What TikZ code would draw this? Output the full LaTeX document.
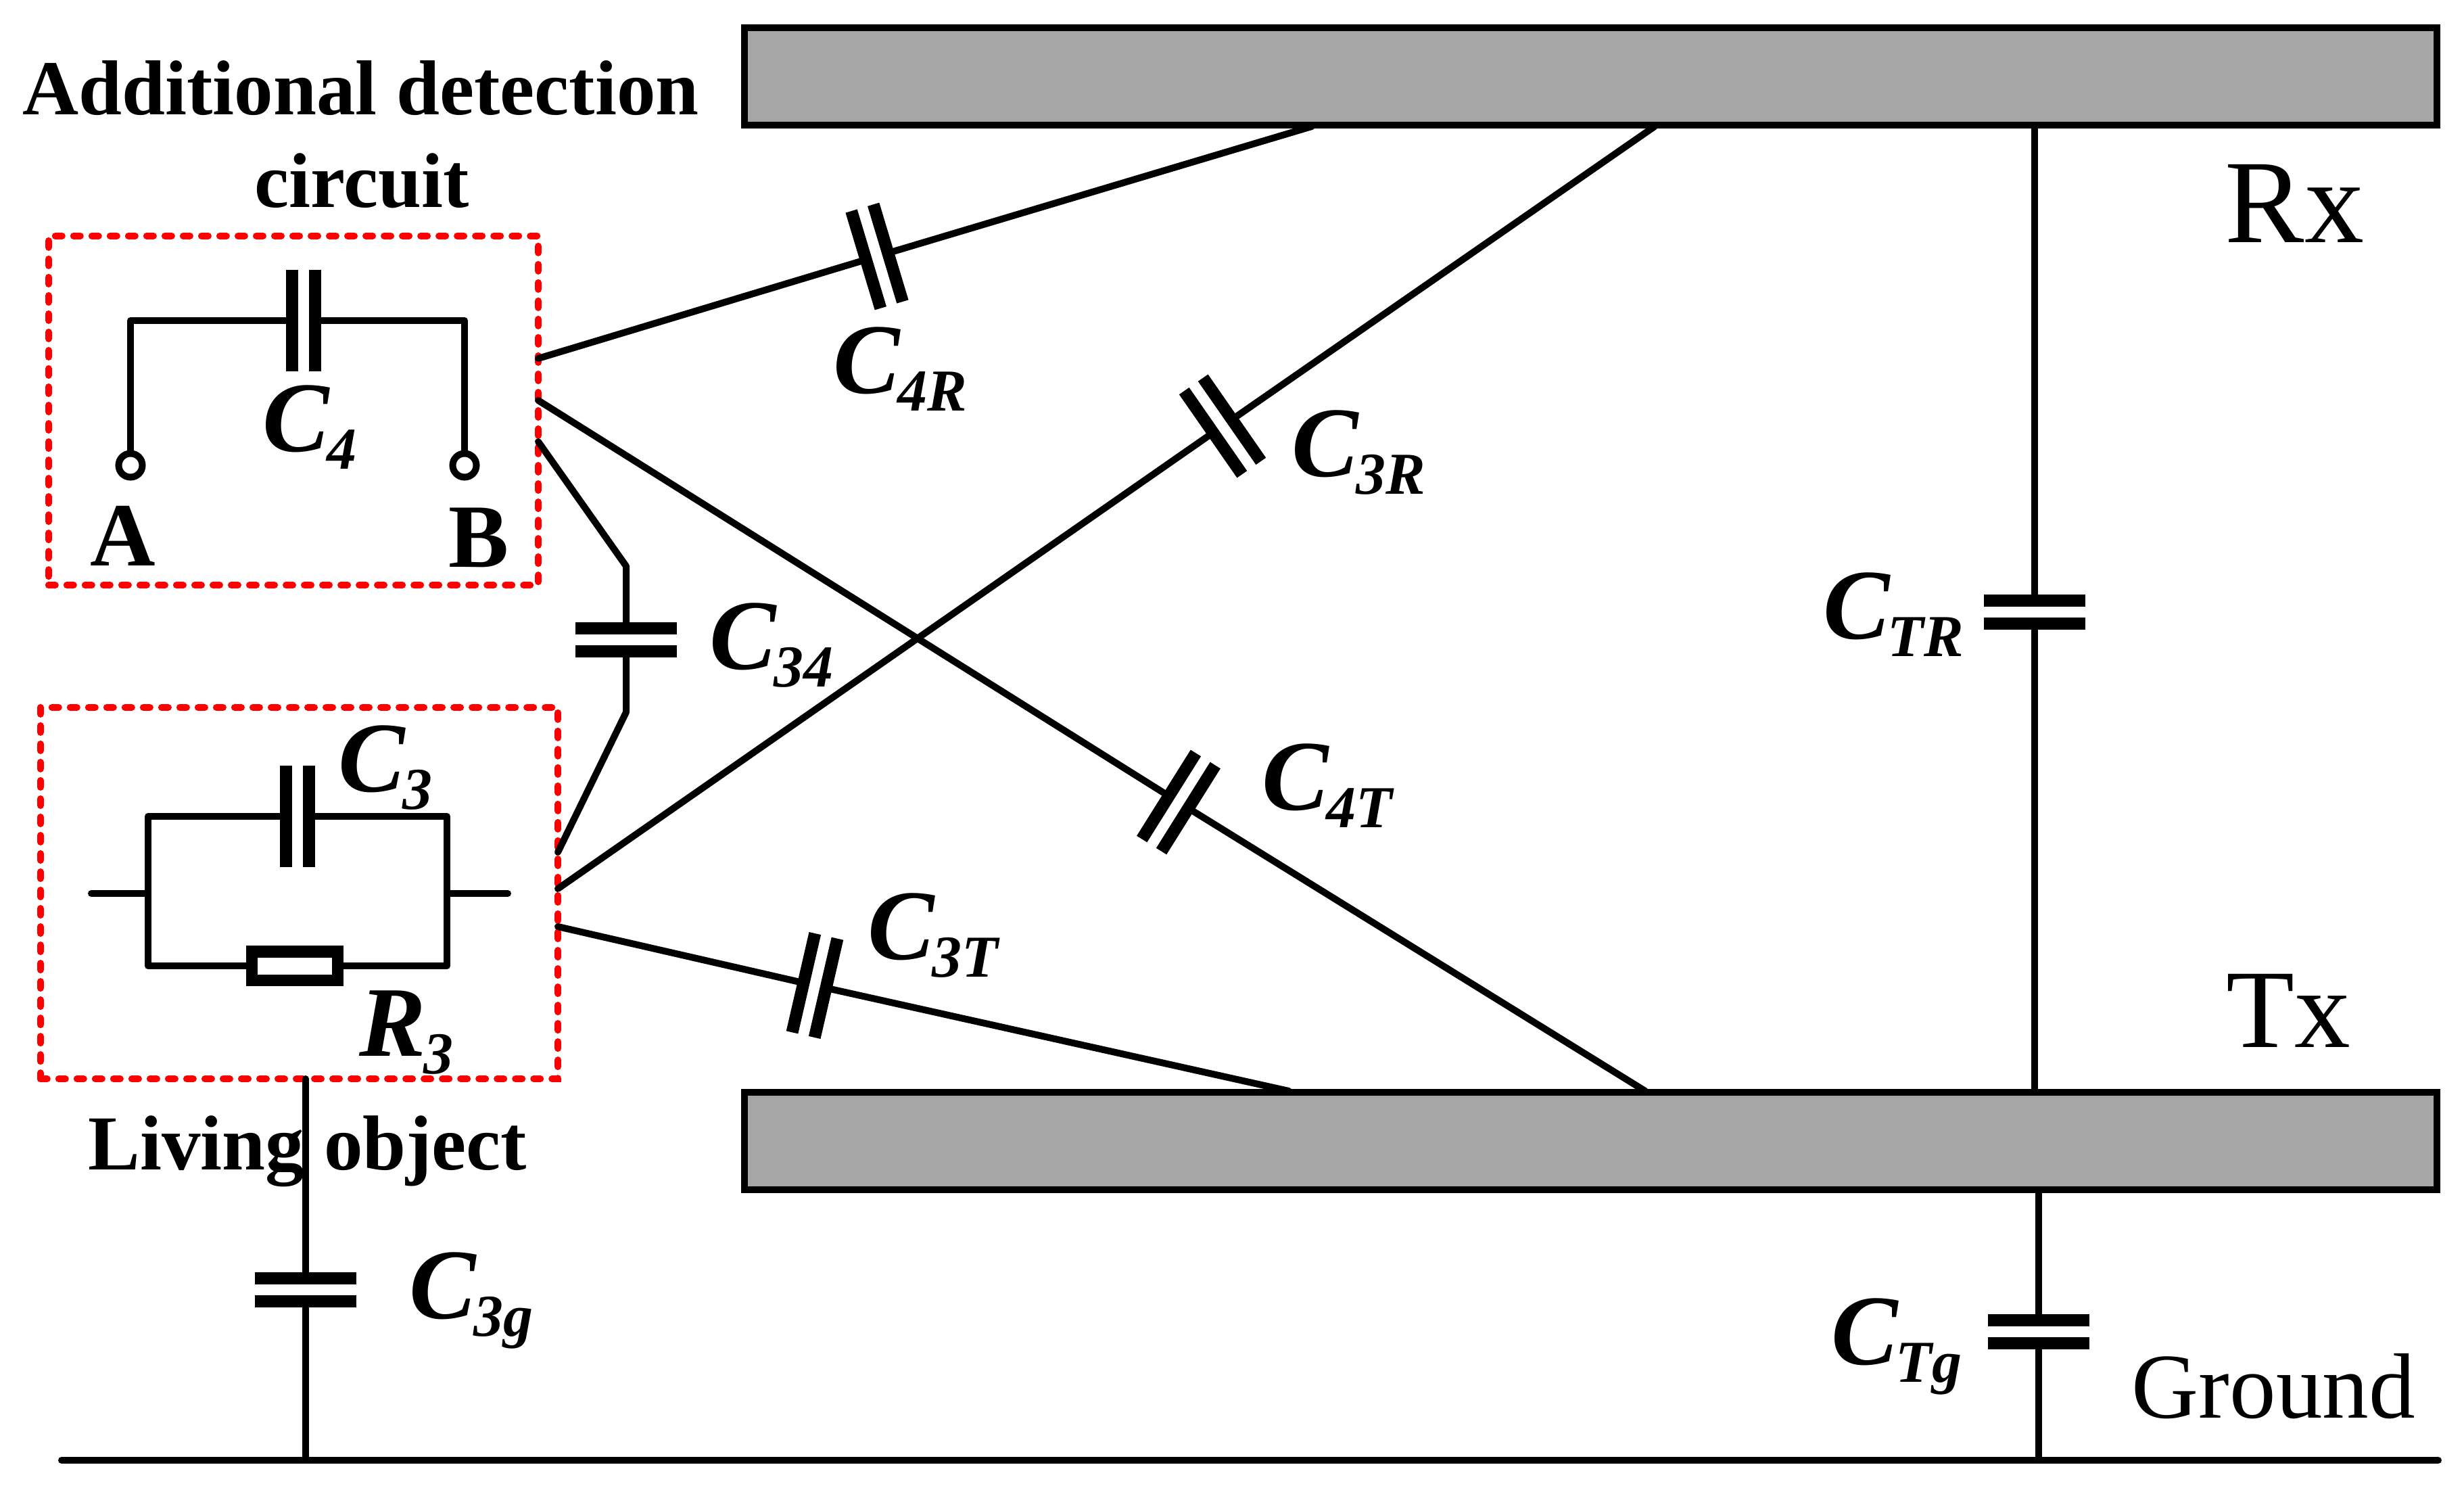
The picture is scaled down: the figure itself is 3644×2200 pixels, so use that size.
\documentclass[tikz,border=0pt]{standalone}
\usepackage{fontspec}
\setmainfont{Liberation Serif}

\newcommand{\capl}[2]{{\fontsize{42}{42}\selectfont\bfseries\itshape #1\kern-1pt\raisebox{-7.5pt}{\fontsize{25}{25}\selectfont #2}}}
% capacitor: name, position, rotation
\newcommand{\capac}[3]{
    \node[capgap, rotate=#3] (#1) at (#2) {};
    \draw[plate] (#1.north west) -- (#1.north east);
    \draw[plate] (#1.south west) -- (#1.south east);
}

\begin{document}
\begin{tikzpicture}[
        x=0.01cm, y=-0.01cm,
        wire/.style={line width=0.1cm, line cap=round, line join=round},
        plate/.style={line width=0.18cm},
        capgap/.style={rectangle, inner sep=0pt, outer sep=0pt, minimum width=1.5cm, minimum height=0.34cm},
        bar/.style={draw, fill=black!35, line width=0.1cm, inner sep=0pt, outer sep=0pt, minimum width=25.01cm, minimum height=1.44cm},
        dbox/.style={draw=red, line width=0.1cm, line cap=round, dash pattern=on 0.1cm off 0.17cm, inner sep=0pt, outer sep=0pt},
        term/.style={circle, draw, fill=white, line width=0.1cm, inner sep=0pt, minimum size=0.35cm},
        bold/.style={inner sep=0pt, anchor=base west, font=\fontsize{32.7}{32.7}\selectfont\bfseries},
        plain/.style={inner sep=0pt, anchor=base west, font=\fontsize{47}{47}\selectfont},
        lab/.style={inner sep=0pt, anchor=base west}
    ]
    \useasboundingbox (0,0) rectangle (3644,2200);

    \node[bar] (rx) at (2352.5,113) {};
    \node[bar] (tx) at (2352.5,1687) {};
    \node[dbox, minimum width=7.24cm, minimum height=5.16cm] (det) at (434,607) {};
    \node[dbox, minimum width=7.65cm, minimum height=5.49cm] (liv) at (442.5,1320.5) {};

    \node[bold] (addl) at (33,170) {Additional detection};
    \node[bold, anchor=base] (circ) at (535,307) {circuit};
    \node[bold] (livl) at (130,1729) {Living object};
    \node[plain, font=\fontsize{50}{50}\selectfont] (rxl) at (3290,358) {Rx};
    \node[plain] (txl) at (3292,1548) {Tx};
    \node[plain, font=\fontsize{39}{39}\selectfont] (gndl) at (3152,2096) {Ground};
    \node[bold, font=\fontsize{38}{38}\selectfont\bfseries] (al) at (133,836) {A};
    \node[bold, font=\fontsize{38}{38}\selectfont\bfseries] (bl) at (663,838) {B};

    \node[lab] (c4l) at (388,667) {\capl{C}{4}};
    \node[lab] (c34l) at (1049,989) {\capl{C}{34}};
    \node[lab] (c4rl) at (1232,581) {\capl{C}{4R}};
    \node[lab] (c3rl) at (1910,704) {\capl{C}{3R}};
    \node[lab] (ctrl) at (2696,944) {\capl{C}{TR}};
    \node[lab] (c4tl) at (1866,1197) {\capl{C}{4T}};
    \node[lab] (c3tl) at (1283,1418) {\capl{C}{3T}};
    \node[lab] (c3l) at (500,1170) {\capl{C}{3}};
    \node[lab] (r3l) at (531,1561) {\capl{R}{3}};
    \node[lab] (c3gl) at (605,1949) {\capl{C}{3g}};
    \node[lab] (ctgl) at (2708,2017) {\capl{C}{Tg}};

    % capacitors
    \capac{c4}{449,474}{90}
    \capac{c3}{440,1207}{90}
    \capac{c34}{926,946}{0}
    \capac{c4r}{1297,379}{106.73}
    \capac{c3r}{1808,630}{124.8}
    \capac{c4t}{1743,1186}{57.9}
    \capac{c3t}{1205,1457}{77}
    \capac{c3g}{452,1907}{0}
    \capac{ctr}{3009,905}{0}
    \capac{ctg}{3015,1969}{0}

    % terminals of the detection circuit
    \node[term] (ta) at (193,688) {};
    \node[term] (tb) at (687,688) {};
    \draw[wire] (c4) -| (ta);
    \draw[wire] (c4) -| (tb);

    % living object
    \node[draw, line width=0.17cm, inner sep=0pt, minimum width=1.26cm, minimum height=0.42cm] (res3) at (436,1428) {};
    \coordinate (jl) at (219,1321);
    \coordinate (jr) at (661,1321);
    \coordinate (stl) at (135,1321);
    \coordinate (str) at (751,1321);
    \draw[wire] (c3) -| (jl);
    \draw[wire] (c3) -| (jr);
    \draw[wire] (res3) -| (jl);
    \draw[wire] (res3) -| (jr);
    \draw[wire] (stl) -- (jl);
    \draw[wire] (jr) -- (str);

    % free ends on the boxes and the bars
    \coordinate (d1) at (796,530);
    \coordinate (d2) at (796,592);
    \coordinate (d3) at (796,653);
    \coordinate (k1) at (926,837);
    \coordinate (k2) at (926,1053);
    \coordinate (l1) at (825,1260);
    \coordinate (l2) at (825,1314);
    \coordinate (l3) at (825,1370);
    \coordinate (l4) at (452,1595);
    \coordinate (rx1) at (1940,187);
    \coordinate (rx2) at (2447,187);
    \coordinate (rx3) at (3009,187);
    \coordinate (tx1) at (1906,1613);
    \coordinate (tx2) at (2433,1613);
    \coordinate (tx3) at (3009,1613);
    \coordinate (tx4) at (3015,1761);
    \coordinate (gl) at (91,2159);
    \coordinate (gr) at (3606,2159);
    \coordinate (g1) at (452,2159);
    \coordinate (g2) at (3015,2159);

    \draw[wire] (d1) -- (c4r);
    \draw[wire] (c4r) -- (rx1);
    \draw[wire] (d2) -- (c4t);
    \draw[wire] (c4t) -- (tx2);
    \draw[wire] (d3) -- (k1) -- (c34);
    \draw[wire] (c34) -- (k2) -- (l1);
    \draw[wire] (l2) -- (c3r);
    \draw[wire] (c3r) -- (rx2);
    \draw[wire] (l3) -- (c3t);
    \draw[wire] (c3t) -- (tx1);
    \draw[wire] (rx3) -- (ctr);
    \draw[wire] (ctr) -- (tx3);
    \draw[wire] (tx4) -- (ctg);
    \draw[wire] (ctg) -- (g2);
    \draw[wire] (l4) -- (c3g);
    \draw[wire] (c3g) -- (g1);
    \draw[wire] (gl) -- (gr);
\end{tikzpicture}
\end{document}
